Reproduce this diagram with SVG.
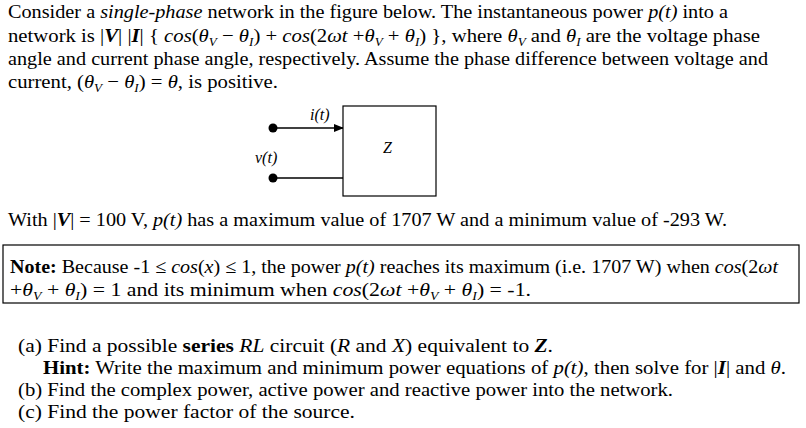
<svg xmlns="http://www.w3.org/2000/svg" width="806" height="428" viewBox="0 0 806 428">
<style>
text{font-family:"Liberation Serif","Times New Roman",serif;font-size:19px;fill:#000}
.i{font-style:italic}
.b{font-weight:bold}
.s{font-size:12px}
.w{stroke:#000;stroke-width:1.5;fill:none}
.l{font-family:"Liberation Serif","Times New Roman",serif;font-size:16px;font-style:italic}
</style>
<defs><marker id="ar" markerWidth="10" markerHeight="8" refX="9" refY="4" orient="auto" markerUnits="userSpaceOnUse"><path d="M0,0L10,4L0,8z" fill="#000"/></marker></defs>
<g id="text1">
<text x="8" y="18" textLength="720" lengthAdjust="spacingAndGlyphs">Consider a <tspan class="i">single-phase</tspan> network in the figure below.  The instantaneous power <tspan class="i">p(t)</tspan> into a</text>
<text x="8" y="42" textLength="752" lengthAdjust="spacingAndGlyphs">network is |<tspan class="i b">V</tspan>| |<tspan class="i b">I</tspan>| { <tspan class="i">cos</tspan>(<tspan class="i">θ</tspan><tspan class="i s" dy="4">V</tspan><tspan dy="-4"> − </tspan><tspan class="i">θ</tspan><tspan class="i s" dy="4">I</tspan><tspan dy="-4">) + </tspan><tspan class="i">cos</tspan>(2<tspan class="i">ωt</tspan> +<tspan class="i">θ</tspan><tspan class="i s" dy="4">V</tspan><tspan dy="-4"> + </tspan><tspan class="i">θ</tspan><tspan class="i s" dy="4">I</tspan><tspan dy="-4">) }, where </tspan><tspan class="i">θ</tspan><tspan class="i s" dy="4">V</tspan><tspan dy="-4"> and </tspan><tspan class="i">θ</tspan><tspan class="i s" dy="4">I</tspan><tspan dy="-4"> are the voltage phase</tspan></text>
<text x="8" y="65" textLength="760" lengthAdjust="spacingAndGlyphs">angle and current phase angle, respectively.  Assume the phase difference between voltage and</text>
<text x="8" y="88" textLength="270" lengthAdjust="spacingAndGlyphs">current, (<tspan class="i">θ</tspan><tspan class="i s" dy="4">V</tspan><tspan dy="-4"> − </tspan><tspan class="i">θ</tspan><tspan class="i s" dy="4">I</tspan><tspan dy="-4">) = </tspan><tspan class="i">θ</tspan>, is positive.</text>
</g>
<g id="connectors">
<line class="w" x1="273" y1="128" x2="343" y2="128" marker-end="url(#ar)"/>
<line class="w" x1="273" y1="178" x2="343" y2="178"/>
</g>
<g id="terminals">
<circle cx="273" cy="128" r="4.5"/>
<circle cx="273" cy="178" r="4.5"/>
<text x="310" y="120" class="l">i(t)</text>
<text x="255" y="163" class="l">v(t)</text>
</g>
<g id="Z">
<rect x="343" y="106" width="93" height="90" fill="#fff" stroke="#000" stroke-width="1.2"/>
<text x="383" y="153" class="l">Z</text>
</g>
<g id="text2">
<text x="8" y="226" textLength="719" lengthAdjust="spacingAndGlyphs">With |<tspan class="i b">V</tspan>| = 100 V, <tspan class="i">p(t)</tspan> has a maximum value of 1707 W and a minimum value of -293 W.</text>
</g>
<g id="note">
<rect x="3" y="245" width="796" height="58" fill="none" stroke="#000" stroke-width="1.2"/>
<text x="10" y="273" textLength="768" lengthAdjust="spacingAndGlyphs"><tspan class="b">Note:</tspan> Because -1 ≤  <tspan class="i">cos</tspan>(<tspan class="i">x</tspan>) ≤ 1, the power <tspan class="i">p(t)</tspan> reaches its maximum (i.e. 1707 W) when <tspan class="i">cos</tspan>(2<tspan class="i">ωt</tspan></text>
<text x="10" y="296" textLength="521" lengthAdjust="spacingAndGlyphs">+<tspan class="i">θ</tspan><tspan class="i s" dy="4">V</tspan><tspan dy="-4"> + </tspan><tspan class="i">θ</tspan><tspan class="i s" dy="4">I</tspan><tspan dy="-4">) = 1 and its minimum when </tspan><tspan class="i">cos</tspan>(2<tspan class="i">ωt</tspan> +<tspan class="i">θ</tspan><tspan class="i s" dy="4">V</tspan><tspan dy="-4"> + </tspan><tspan class="i">θ</tspan><tspan class="i s" dy="4">I</tspan><tspan dy="-4">) = -1.</tspan></text>
</g>
<g id="questions">
<text x="18" y="352" textLength="535" lengthAdjust="spacingAndGlyphs">(a) Find a possible <tspan class="b">series</tspan> <tspan class="i">RL</tspan> circuit (<tspan class="i">R</tspan> and <tspan class="i">X</tspan>) equivalent to <tspan class="i b">Z</tspan>.</text>
<text x="43" y="374" textLength="743" lengthAdjust="spacingAndGlyphs"><tspan class="b">Hint:</tspan> Write the maximum and minimum power equations of <tspan class="i">p(t)</tspan>, then solve for |<tspan class="i b">I</tspan>| and <tspan class="i">θ</tspan>.</text>
<text x="18" y="396" textLength="655" lengthAdjust="spacingAndGlyphs">(b) Find the complex power, active power and reactive power into the network.</text>
<text x="18" y="418" textLength="337" lengthAdjust="spacingAndGlyphs">(c) Find the power factor of the source.</text>
</g>
</svg>
